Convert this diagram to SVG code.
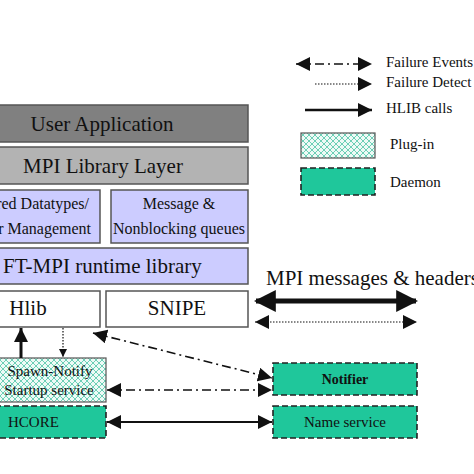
<svg xmlns="http://www.w3.org/2000/svg" width="474" height="474" viewBox="0 0 474 474">
<style>
text{font-family:"Liberation Serif","Times New Roman",serif;fill:#111}
.box{stroke:#555;stroke-width:1.5}
.daemon{fill:#1fc79b;stroke:#222;stroke-width:1.6;stroke-dasharray:6,3}
.plug{fill:url(#hatch);stroke:#555;stroke-width:1.2}
.dd{fill:none;stroke:#111;stroke-width:1.6;stroke-dasharray:9,4,2,4}
.dot{fill:none;stroke:#111;stroke-width:1.2;stroke-dasharray:1.5,1.5}
.sol{fill:none;stroke:#111;stroke-width:1.8}
</style>
<defs>
<pattern id="hatch" width="6" height="6" patternUnits="userSpaceOnUse">
<rect width="6" height="6" fill="#eefaf6"/>
<path d="M0,0L6,6M6,0L0,6" stroke="#6ccfb6" stroke-width="1"/>
</pattern>
<marker id="ah" viewBox="0 0 10 10" refX="10" refY="5" markerWidth="8" markerHeight="8" markerUnits="userSpaceOnUse" orient="auto-start-reverse">
<path d="M0,0L10,5L0,10z" fill="#111"/>
</marker>
<marker id="ahb" viewBox="0 0 10 10" refX="10" refY="5" markerWidth="14" markerHeight="14" markerUnits="userSpaceOnUse" orient="auto-start-reverse">
<path d="M0,0L10,5L0,10z" fill="#111"/>
</marker>
<marker id="ahc" viewBox="0 0 10 10" refX="9" refY="5" markerWidth="22" markerHeight="22" markerUnits="userSpaceOnUse" orient="auto-start-reverse">
<path d="M0,0L10,5L0,10z" fill="#111"/>
</marker>
</defs>

<g id="user-application">
<rect class="box" x="-5" y="105" width="253" height="37" fill="#808080"/>
<text x="102" y="131" font-size="21" text-anchor="middle">User Application</text>
</g>
<g id="mpi-library-layer">
<rect class="box" x="-5" y="147" width="253" height="37" fill="#b3b3b3"/>
<text x="103" y="173" font-size="21" text-anchor="middle">MPI Library Layer</text>
</g>
<g id="datatypes">
<rect class="box" x="-5" y="190" width="105" height="53" fill="#ccccff"/>
<text x="89" y="209" font-size="16" text-anchor="end">red Datatypes/</text>
<text x="91" y="234" font-size="16" text-anchor="end">r Management</text>
</g>
<g id="message-queues">
<rect class="box" x="111" y="190" width="137" height="53" fill="#ccccff"/>
<text x="179" y="209" font-size="16" text-anchor="middle">Message &amp;</text>
<text x="179" y="234" font-size="16" text-anchor="middle">Nonblocking queues</text>
</g>
<g id="ftmpi-runtime">
<rect class="box" x="-5" y="248" width="253" height="36" fill="#ccccff"/>
<text x="3" y="273" font-size="21">FT-MPI runtime library</text>
</g>
<g id="hlib">
<rect class="box" x="-5" y="291" width="105" height="36" fill="#fff"/>
<text x="28" y="315" font-size="21" text-anchor="middle">Hlib</text>
</g>
<g id="snipe">
<rect class="box" x="106" y="291" width="142" height="36" fill="#fff"/>
<text x="177" y="315" font-size="21" text-anchor="middle">SNIPE</text>
</g>
<g id="spawn-notify">
<rect class="plug" x="-5" y="358" width="111" height="44"/>
<text x="50" y="376" font-size="15" text-anchor="middle">Spawn-Notify</text>
<text x="49" y="395" font-size="15" text-anchor="middle">Startup service</text>
</g>
<g id="hcore">
<rect class="daemon" x="-5" y="406" width="111" height="32"/>
<text x="8" y="427" font-size="15">HCORE</text>
</g>
<g id="notifier">
<rect class="daemon" x="273" y="363" width="144" height="32"/>
<text x="345" y="384" font-size="14" font-weight="bold" text-anchor="middle">Notifier</text>
</g>
<g id="name-service">
<rect class="daemon" x="273" y="406" width="144" height="32"/>
<text x="345" y="427" font-size="15" text-anchor="middle">Name service</text>
</g>
<g id="mpi-messages-label">
<text x="266" y="285" font-size="21">MPI messages &amp; headers</text>
</g>

<g id="connectors">
<line x1="21" y1="358" x2="21" y2="328" stroke="#111" stroke-width="3" marker-end="url(#ahb)"/>
<line x1="63" y1="328" x2="63" y2="357" class="dot" marker-end="url(#ah)"/>
<line x1="93" y1="333" x2="272" y2="378" class="dd" marker-start="url(#ahb)" marker-end="url(#ahb)"/>
<line x1="107" y1="390" x2="272" y2="390" class="dd" marker-start="url(#ahb)" marker-end="url(#ahb)"/>
<line x1="107" y1="422" x2="272" y2="422" class="sol" marker-start="url(#ahb)" marker-end="url(#ahb)"/>
<line x1="256" y1="301" x2="416" y2="301" stroke="#111" stroke-width="5" marker-start="url(#ahc)" marker-end="url(#ahc)"/>
<line x1="255" y1="322" x2="417" y2="322" class="dot" marker-start="url(#ahb)" marker-end="url(#ahb)"/>
</g>

<g id="legend">
<line x1="296" y1="64" x2="372" y2="64" class="dd" marker-start="url(#ahb)" marker-end="url(#ahb)"/>
<text x="386" y="67" font-size="15">Failure Events</text>
<line x1="315" y1="84" x2="372" y2="84" class="dot" marker-end="url(#ahb)"/>
<text x="386" y="87" font-size="15">Failure Detect</text>
<line x1="305" y1="110" x2="372" y2="110" stroke="#111" stroke-width="2.5" marker-end="url(#ahb)"/>
<text x="386" y="113" font-size="15">HLIB calls</text>
<rect class="plug" x="301" y="133" width="74" height="25"/>
<text x="390" y="149" font-size="15">Plug-in</text>
<rect class="daemon" x="301" y="168" width="74" height="27"/>
<text x="390" y="187" font-size="15">Daemon</text>
</g>
</svg>
